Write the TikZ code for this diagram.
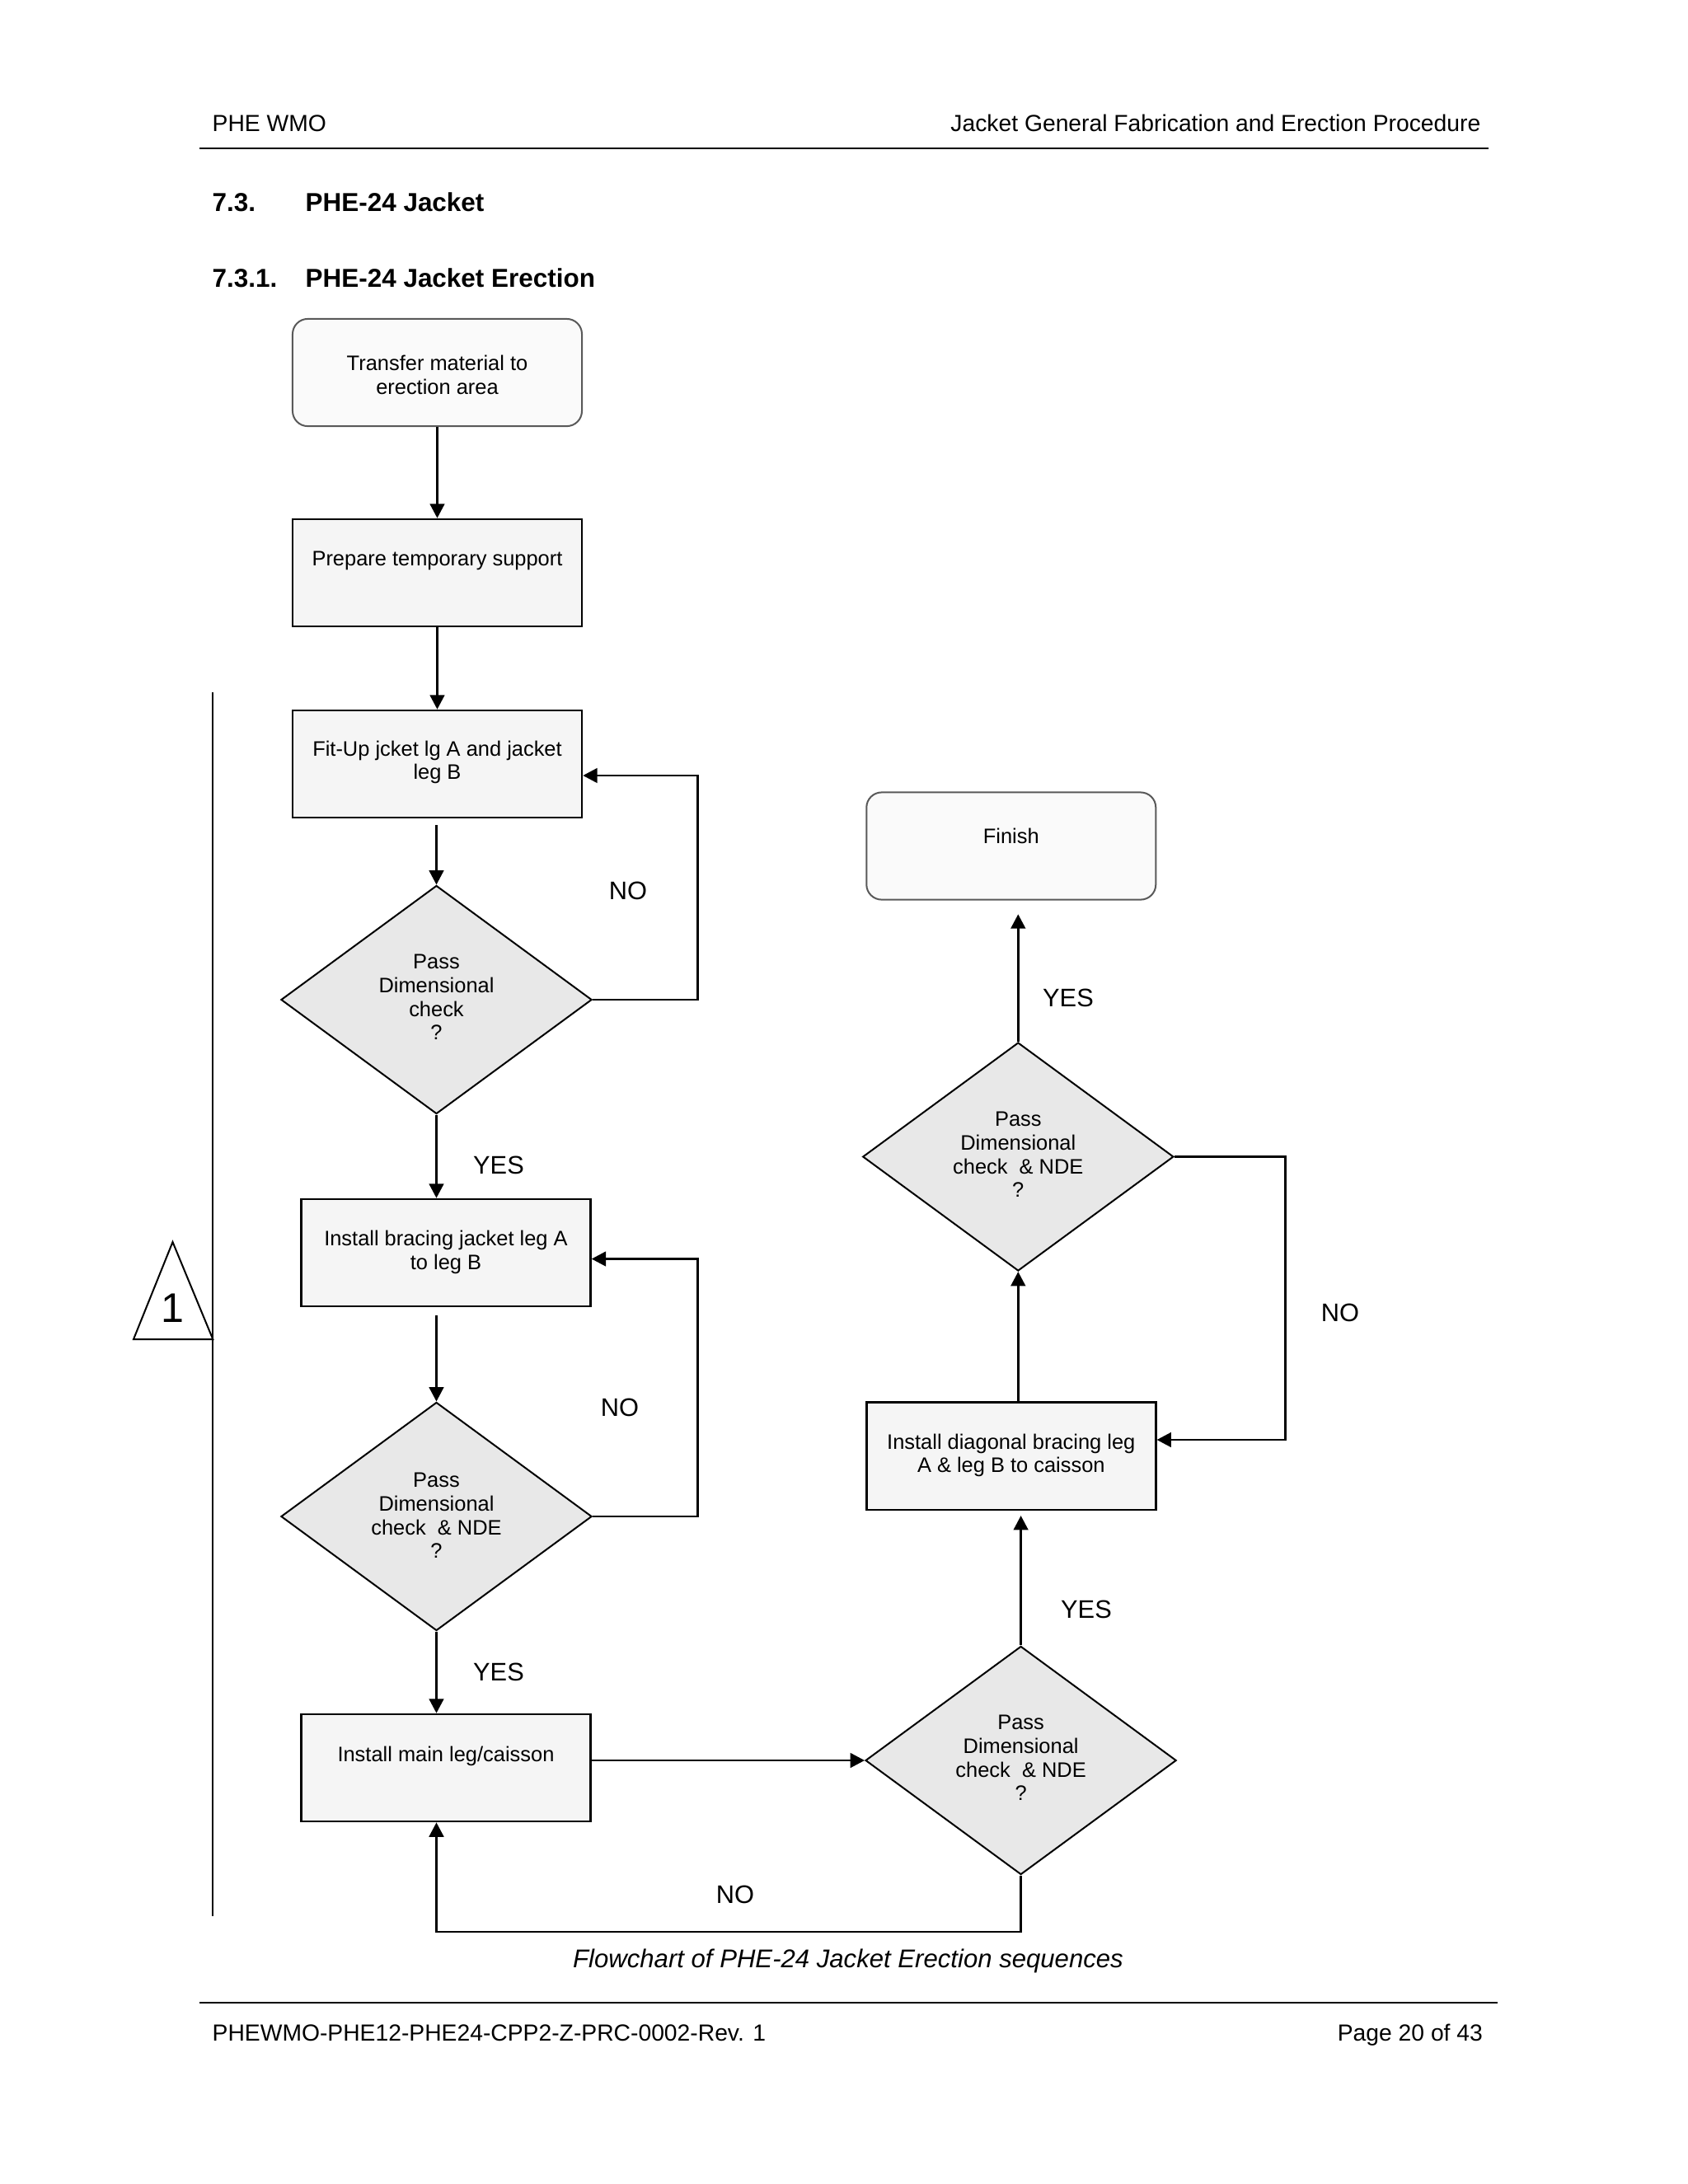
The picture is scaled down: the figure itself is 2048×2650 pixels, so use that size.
\documentclass[tikz,border=0pt]{standalone}
\usepackage{fontspec}
\setmainfont{Liberation Sans}
\usetikzlibrary{shapes.geometric,arrows.meta,calc}
\begin{document}
\begin{tikzpicture}[x=0.29883pt,y=-0.29883pt,
  stepbox/.style={draw=black, line width=0.75pt, fill=black!4, rectangle,
    minimum width=104.9pt, minimum height=38.9pt, inner sep=0pt},
  roundbox/.style={draw=black!65, line width=0.6pt, fill=black!2, rectangle,
    rounded corners=5.5pt, minimum width=104.9pt, minimum height=38.9pt, inner sep=0pt},
  decision/.style={draw=black, line width=0.6pt, fill=black!9, diamond,
    minimum width=112.7pt, minimum height=82.8pt, inner sep=0pt},
  txt/.style={font=\fontsize{7.6}{8.6}\selectfont, align=center, inner sep=0pt},
  lbl/.style={font=\fontsize{9.2}{11}\selectfont, inner sep=0pt},
  hdr/.style={font=\fontsize{8.45}{10}\selectfont, inner sep=0pt},
  head/.style={font=\bfseries\fontsize{9.4}{11}\selectfont, inner sep=0pt, anchor=base west},
  arr/.style={line width=0.75pt, -{Triangle[length=5.2pt,width=5.3pt]}},
  ln/.style={line width=0.75pt}]
\useasboundingbox (0,0) rectangle (2048,2650);

% header
\node[hdr, anchor=base west] (h1) at (257,159) {PHE WMO};
\node[hdr, anchor=base east] (h2) at (1797,159) {Jacket General Fabrication and Erection Procedure};
\draw[line width=0.8pt] (241.6,180) -- (1806,180);
\node[head] (s1) at (257,256) {7.3.};
\node[head] (s1t) at (370,256) {PHE-24 Jacket};
\node[head] (s2) at (257,348) {7.3.1.};
\node[head] (s2t) at (370,348) {PHE-24 Jacket Erection};

% shapes
\node[roundbox] (b1) at (530.5,452) {};
\node[stepbox] (b2) at (530.5,695) {};
\node[stepbox] (b3) at (530.5,927) {};
\node[decision] (d1) at (529.5,1213) {};
\node[stepbox] (b4) at (541,1520) {};
\node[decision] (d2) at (529.5,1840) {};
\node[stepbox] (b5) at (541,2145) {};
\node[decision] (d3) at (1238.6,2136) {};
\node[stepbox] (b6) at (1226.8,1766.7) {};
\node[decision] (d4) at (1235.3,1403.5) {};
\node[roundbox] (fin) at (1226.8,1026.5) {};

% texts
\node[txt] (t1) at (530.5,455) {Transfer material to\\erection area};
\node[txt] (t2) at (530.5,680) {Prepare temporary support};
\node[txt] (t3) at (530.5,925) {Fit-Up jcket lg A and jacket\\leg B};
\node[txt] (td1) at (529.5,1210) {Pass\\Dimensional\\check\\?};
\node[txt] (t4) at (541,1519.5) {Install bracing jacket leg A\\to leg B};
\node[txt] (td2) at (529.5,1839) {Pass\\Dimensional\\check\ \ \&~NDE\\?};
\node[txt] (t5) at (541,2131) {Install main leg/caisson};
\node[txt] (td3) at (1238.6,2133) {Pass\\Dimensional\\check\ \ \&~NDE\\?};
\node[txt] (t6) at (1226.8,1766) {Install diagonal bracing leg\\A \& leg B to caisson};
\node[txt] (td4) at (1235.3,1401) {Pass\\Dimensional\\check\ \ \&~NDE\\?};
\node[txt] (tf) at (1226.8,1014) {Finish};

% connectors
\draw[arr] (b1.south) -- (b2.north);
\draw[arr] (b2.south) -- (b3.north);
\draw[arr, shorten <=2.4pt] (b3.south -| d1.north) -- (d1.north);
\draw[arr] (d1.south) -- (d1.south |- b4.north);
\draw[arr, shorten <=3pt] (b4.south -| d2.north) -- (d2.north);
\draw[arr] (d2.south) -- (d2.south |- b5.north);
\draw[arr] (b5.east |- d3.west) -- (d3.west);
\coordinate (n3) at (1240,2344);
\draw[arr] (d3.south) -- (d3.south |- n3) -| (d2.south |- b5.south);
\draw[arr, shorten >=1.8pt] (d3.north) -- (d3.north |- b6.south);
\draw[arr] (b6.north -| d4.south) -- (d4.south);
\draw[arr, shorten >=5pt] (d4.north) -- (d4.north |- fin.south);
\coordinate (n1) at (846.6,941);
\draw[arr] (d1.east) -| (n1) -- (n1 -| b3.east);
\coordinate (n2) at (846.6,1527.5);
\draw[arr] (d2.east) -| (n2) -- (n2 -| b4.east);
\coordinate (n4) at (1559.7,1747);
\draw[arr] (d4.east) -| (n4) -- (n4 -| b6.east);

% labels
\node[lbl] (l1) at (762,1081) {NO};
\node[lbl] (l2) at (605,1414) {YES};
\node[lbl] (l3) at (752,1708) {NO};
\node[lbl] (l4) at (605,2029) {YES};
\node[lbl] (l5) at (892,2299) {NO};
\node[lbl] (l6) at (1318,1953) {YES};
\node[lbl] (l7) at (1296,1211) {YES};
\node[lbl] (l8) at (1626,1593) {NO};

% revision marker
\draw[line width=0.6pt] (258.3,840) -- (258.3,2325);
\draw[line width=0.6pt] (209.5,1507) -- (258.3,1625) -- (162,1625) -- cycle;
\node[font=\fontsize{15}{17}\selectfont, inner sep=0pt] (rev) at (209,1587) {1};

% caption and footer
\node[font=\itshape\fontsize{9.3}{11}\selectfont, inner sep=0pt, anchor=base] (cap) at (1029,2387) {Flowchart of PHE-24 Jacket Erection sequences};
\draw[line width=0.8pt] (241.6,2430) -- (1816.5,2430);
\node[hdr, anchor=base west] (f1) at (257,2476) {PHEWMO-PHE12-PHE24-CPP2-Z-PRC-0002-Rev. 1};
\node[hdr, anchor=base east] (f2) at (1799.6,2476) {Page 20 of 43};
\end{tikzpicture}
\end{document}
